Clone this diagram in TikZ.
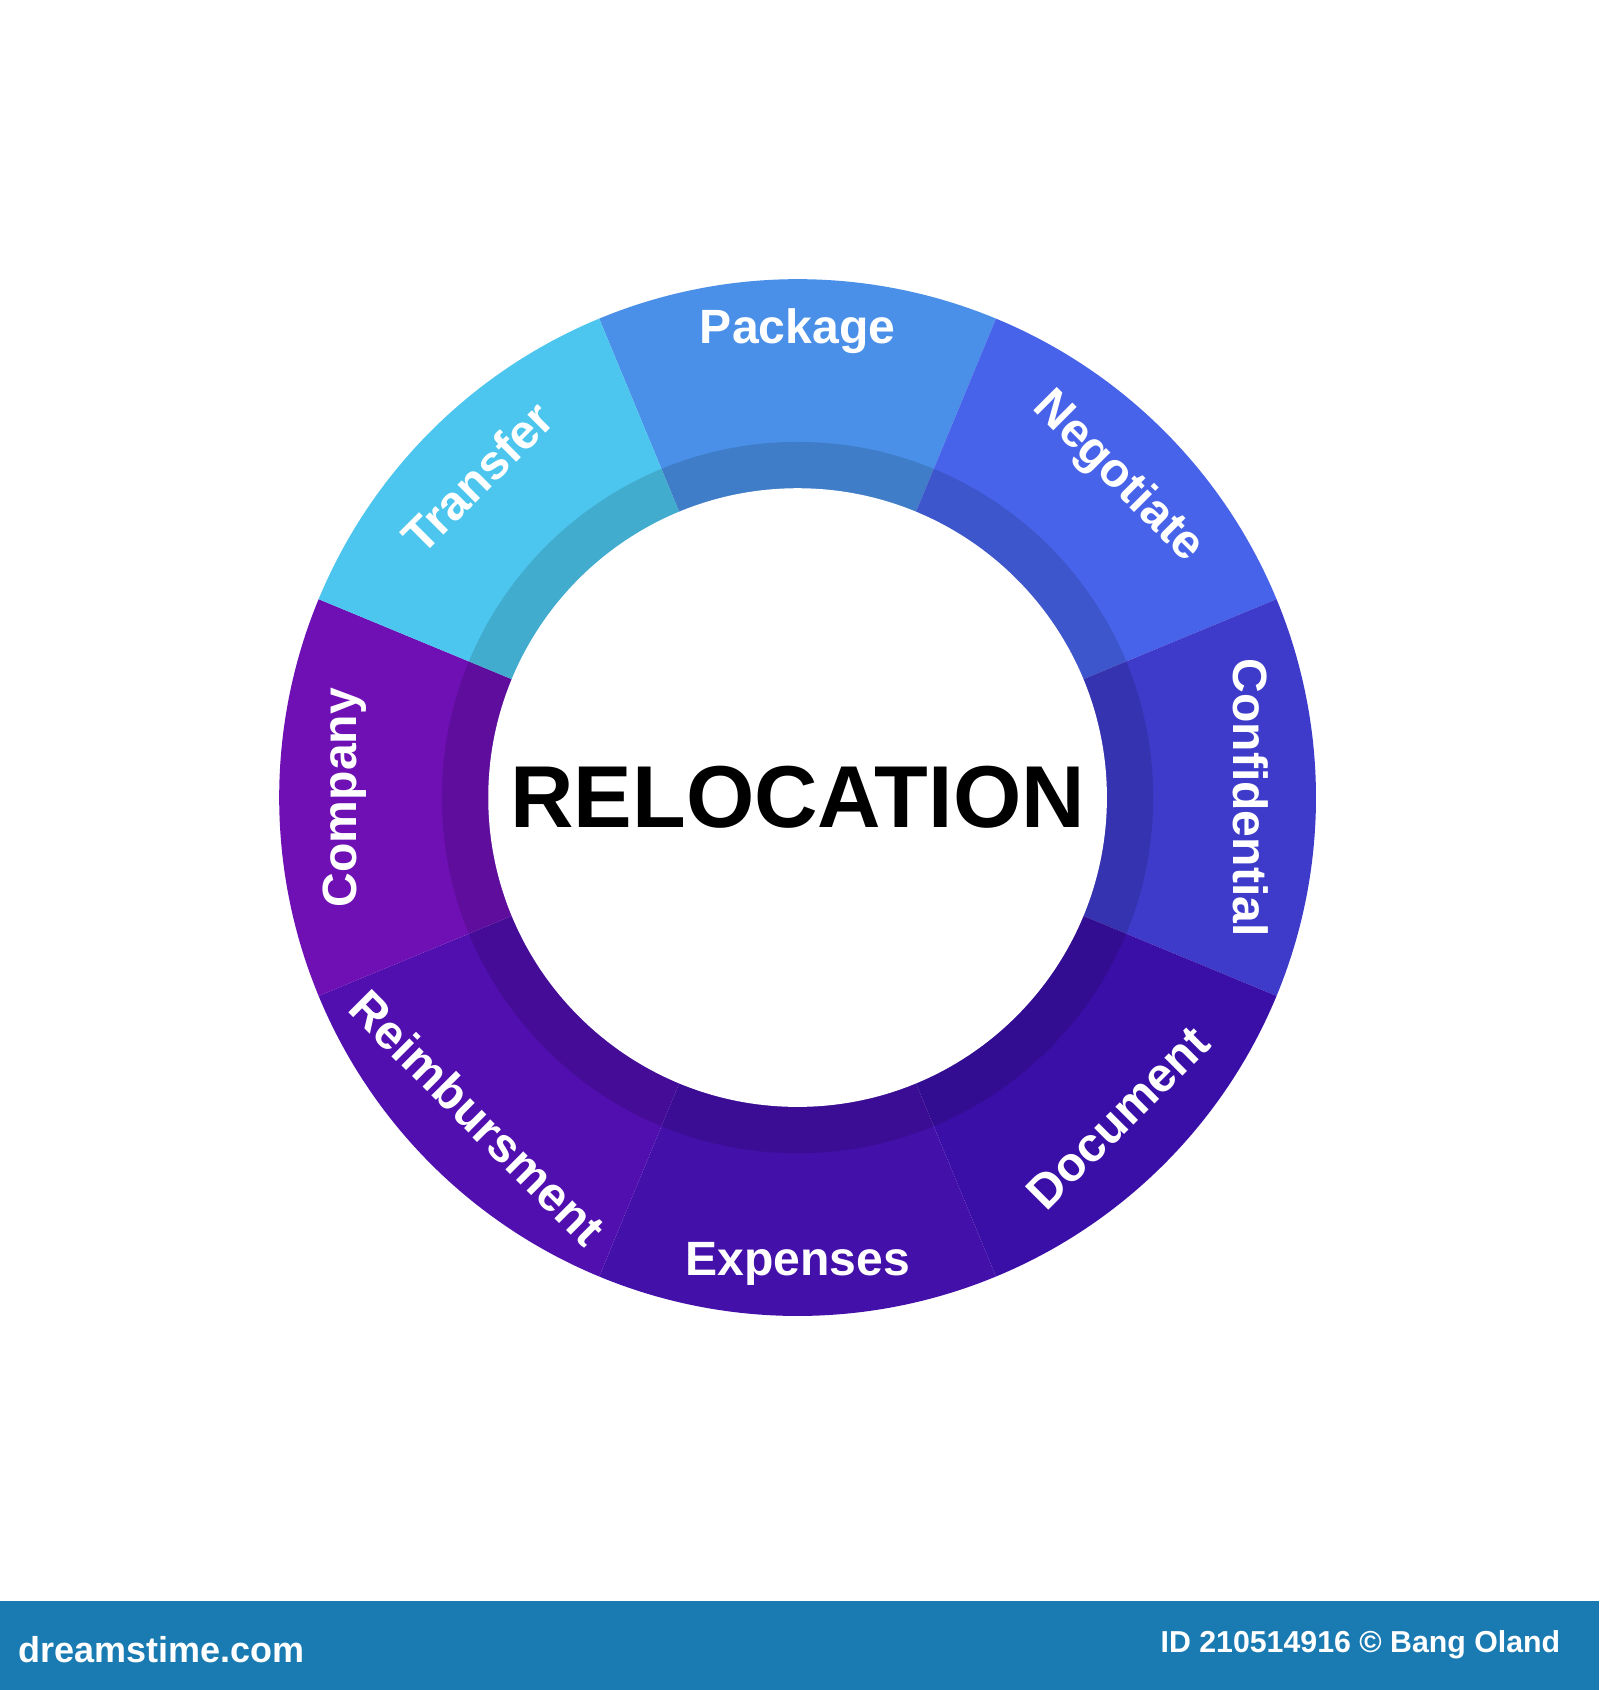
\documentclass[tikz,border=0pt]{standalone}
\usepackage{fontspec}
\setmainfont{Liberation Sans}
\usetikzlibrary{calc}
\definecolor{cPack}{HTML}{4A90E8}
\definecolor{cNeg}{HTML}{4763EA}
\definecolor{cConf}{HTML}{3E3BCB}
\definecolor{cDoc}{HTML}{3A0FA8}
\definecolor{cExp}{HTML}{4410AA}
\definecolor{cReim}{HTML}{500FAE}
\definecolor{cComp}{HTML}{6E10B4}
\definecolor{cTrans}{HTML}{4CC6EE}
\definecolor{cBar}{HTML}{1A7BB3}
\tikzset{lab/.style={text=white,inner sep=1pt,font=\bfseries\fontsize{12.7}{14}\selectfont},
 bar/.style={text=white,font=\bfseries\fontsize{8}{10}\selectfont}}
\begin{document}
\begin{tikzpicture}
\fill[white] (0,0) rectangle (14.84,15.68);
\useasboundingbox (0,0) rectangle (14.84,15.68);
\coordinate (c) at (7.40,8.28);
\foreach \a/\col in {90/cPack,45/cNeg,0/cConf,-45/cDoc,-90/cExp,-135/cReim,180/cComp,135/cTrans}{
 \fill[\col] ($(c)+(\a-22.5:4.81)$) arc[start angle=\a-22.5,end angle=\a+22.5,radius=4.81] -- (c) -- cycle;
}
\fill[black,opacity=0.13] (c) circle (3.3);
\fill[white] (c) circle (2.87);
\node[lab,rotate=0] (p) at ($(c)+(90:4.33)$) {Package};
\node[lab,rotate=-45] (n) at ($(c)+(45:4.2)$) {Negotiate};
\node[lab,rotate=-90] (cf) at ($(c)+(0:4.2)$) {Confidential};
\node[lab,rotate=45] (d) at ($(c)+(-45:4.2)$) {Document};
\node[lab,rotate=0] (e) at ($(c)+(-90:4.33)$) {Expenses};
\node[lab,rotate=-45] (r) at ($(c)+(-135:4.2)$) {Reimbursment};
\node[lab,rotate=90] (co) at ($(c)+(180:4.2)$) {Company};
\node[lab,rotate=45] (t) at ($(c)+(135:4.2)$) {Transfer};
\node[font=\bfseries\fontsize{23.2}{26}\selectfont] (rel) at (c) {RELOCATION};
\fill[cBar] (0,0) rectangle (14.84,0.83);
\node[bar,anchor=west,font=\bfseries\fontsize{9.5}{12}\selectfont] (dl) at (0.05,0.37) {dreamstime.com};
\node[bar,anchor=east] (id) at (14.6,0.42) {ID 210514916 © Bang Oland};
\end{tikzpicture}
\end{document}
